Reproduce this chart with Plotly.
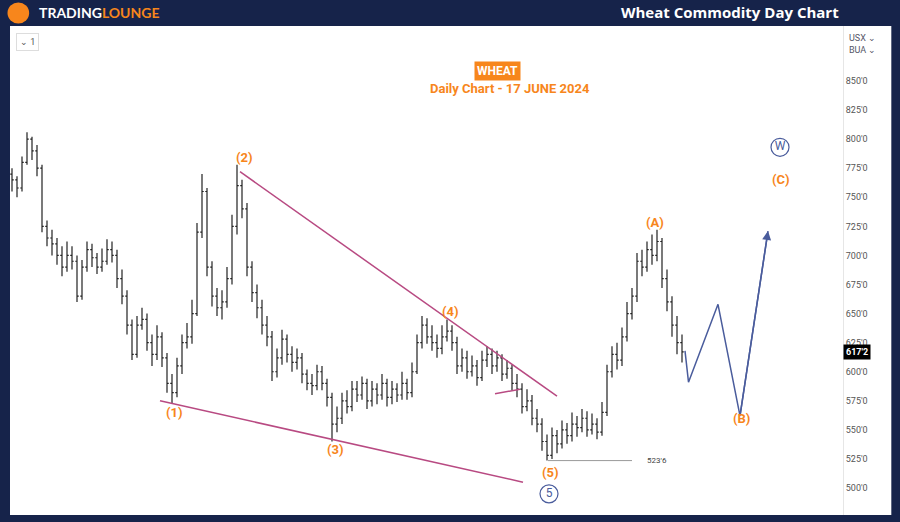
import plotly.graph_objects as go

closes = [765,758,780,800,790,775,725,715,710,700,690,700,695,665,690,705,698,690,695,705,
          700,680,665,640,615,640,645,625,615,630,612,590,582,605,625,630,650,720,755,690,
          665,655,660,680,725,760,740,690,668,655,640,630,600,612,628,615,608,612,598,590,
          588,600,590,578,555,560,575,570,585,580,590,575,585,580,590,578,585,580,590,582,
          600,625,640,630,625,620,630,635,625,605,612,600,605,595,610,615,605,612,598,603,
          590,585,570,575,560,555,540,528,545,538,550,545,555,552,560,550,555,548,565,600,
          615,610,630,650,665,695,690,705,700,712,680,660,640,625,617]
highs = [775,768,785,806,802,795,778,730,722,715,708,712,708,700,696,712,710,702,706,714,
         712,705,688,670,645,648,655,650,632,640,634,616,598,612,632,642,662,728,770,758,
         695,672,670,690,735,778,765,745,695,675,662,648,635,620,636,632,622,620,616,602,
         598,606,605,594,582,570,582,584,592,592,596,594,592,590,598,594,592,590,600,594,
         608,632,648,646,640,632,640,645,640,630,620,618,614,610,618,622,620,618,615,610,
         606,598,590,585,580,568,560,546,552,550,558,556,565,562,568,566,564,560,574,606,
         622,625,638,660,672,702,705,712,718,722,715,688,665,648,632]
lows = [755,750,755,778,782,768,720,708,700,692,682,686,688,660,662,686,690,684,686,692,
        694,672,658,632,610,612,636,618,605,610,604,582,573,578,598,620,624,648,715,682,
        656,648,645,655,675,718,732,682,660,646,632,622,592,595,606,608,600,602,590,584,
        580,584,584,570,540,548,555,564,566,574,576,568,570,572,576,570,572,574,576,576,
        578,598,620,624,618,612,615,626,618,598,600,594,596,588,592,604,598,600,592,594,
        584,578,564,566,554,548,532,523.6,525,530,534,538,540,544,548,544,546,542,545,562,
        595,602,605,626,645,660,682,686,692,695,672,652,630,615,608]
opens = [770] + closes[:-1]
bars = list(range(len(closes)))

price_ticks = [475,500,525,550,575,600,625,650,675,700,725,750,775,800,825,850]
price_labels = [f"{p}'0" for p in price_ticks]

upper_line_x = [45.6, 109.0]; upper_line_y = [772, 579]
lower_line_x = [29.6, 102.2]; lower_line_y = [575, 505]
small_line_x = [96.6, 101.6]; small_line_y = [581, 585]
proj_x = [134.6, 135.3, 141.2, 145.6]; proj_y = [618, 591, 658, 562]
arrow_end = (151.2, 721)

wave_labels = ["(1)","(2)","(3)","(4)","(5)","(A)","(B)","(C)"]
wave_x = [32.4, 46.4, 64.6, 87.6, 107.6, 128.6, 145.8, 153.6]
wave_y = [565, 784, 533, 652, 513, 728, 560, 765]

ORANGE = "#f7861c"; NAVY = "#16234a"; PINK = "#b84a82"; BLUE = "#4a5c9c"
W, H, L, R, T, B = 900, 522, 10, 57, 26, 7

def px_to_paper(px, py):
    return (px - L) / (W - L - R), 1 - (py - T) / (H - T - B)

fig = go.Figure()
fig.add_trace(go.Ohlc(x=bars, open=opens, high=highs, low=lows, close=closes,
                      increasing=dict(line=dict(color="#222", width=1.2)),
                      decreasing=dict(line=dict(color="#222", width=1.2)),
                      tickwidth=0.35, hoverinfo="skip"))
for lx, ly in [(upper_line_x, upper_line_y), (lower_line_x, lower_line_y), (small_line_x, small_line_y)]:
    fig.add_trace(go.Scatter(x=lx, y=ly, mode="lines", line=dict(color=PINK, width=1.5), hoverinfo="skip"))
fig.add_trace(go.Scatter(x=proj_x + [arrow_end[0]], y=proj_y + [arrow_end[1]], mode="lines",
                         line=dict(color=BLUE, width=1.5), hoverinfo="skip"))
fig.add_annotation(x=arrow_end[0], y=arrow_end[1], ax=proj_x[-1], ay=proj_y[-1], xref="x", yref="y",
                   axref="x", ayref="y", text="", showarrow=True, arrowhead=2, arrowsize=1.2,
                   arrowwidth=1.5, arrowcolor=BLUE)
fig.add_trace(go.Scatter(x=[107.2, 124], y=[523.6, 523.6], mode="lines", line=dict(color="#999", width=1), hoverinfo="skip"))
fig.add_annotation(x=126.5, y=523.6, text="523'6", showarrow=False, xanchor="left",
                   font=dict(size=8, color="#444", family="Roboto"))
for t, xx, yy in zip(wave_labels, wave_x, wave_y):
    fig.add_annotation(x=xx, y=yy, text=f"<b>{t}</b>", showarrow=False,
                       font=dict(size=13, color=ORANGE, family="Roboto"))
fig.add_trace(go.Scatter(x=[107.4, 153.6], y=[495, 793], mode="markers+text", text=["5", "W"],
                         textposition="middle center",
                         textfont=dict(size=12, color=BLUE, family="Roboto"),
                         marker=dict(symbol="circle-open", size=18, color=BLUE, line=dict(width=1.2)),
                         hoverinfo="skip"))

fig.update_layout(
    width=W, height=H, showlegend=False,
    paper_bgcolor=NAVY, plot_bgcolor="white",
    margin=dict(l=L, r=R, t=T, b=B),
    xaxis=dict(range=[-0.4, 166.2], showgrid=False, showticklabels=False, zeroline=False,
               rangeslider=dict(visible=False), fixedrange=True),
    yaxis=dict(range=[476.8, 897.3], side="right", tickvals=price_ticks, ticktext=price_labels,
               showgrid=False, zeroline=False, ticks="", tickfont=dict(size=9, color="#555", family="Roboto"),
               showline=True, linecolor="#e6e6e6"),
)
fig.add_shape(type="rect", xref="paper", yref="paper", x0=1.0, x1=1.058, y0=0, y1=1,
              fillcolor="white", line=dict(width=0), layer="below")
fig.add_annotation(xref="paper", yref="paper", x=1.005, y=0.99, xanchor="left", yanchor="top",
                   text="USX ⌄<br>BUA ⌄", showarrow=False, align="left",
                   font=dict(size=9, color="#556", family="Roboto"))
fig.add_annotation(x=1.0, y=617.2, xref="paper", yref="y", xanchor="left", text="<b>617'2</b>",
                   showarrow=False, bgcolor="black", font=dict(size=9, color="white", family="Roboto"),
                   borderpad=2)
fig.add_annotation(xref="paper", yref="paper", x=0.007, y=0.985, xanchor="left", yanchor="top",
                   text="⌄ 1", showarrow=False, bordercolor="#ddd", borderwidth=1, borderpad=3,
                   font=dict(size=9, color="#555", family="Roboto"))
wx, wy = px_to_paper(497, 61)
fig.add_annotation(x=wx, y=wy, xref="paper", yref="paper", text="<b>WHEAT</b>", showarrow=False,
                   bgcolor=ORANGE, font=dict(size=12, color="white", family="Roboto"), borderpad=2)
dx, dy = px_to_paper(510, 79)
fig.add_annotation(x=dx, y=dy, xref="paper", yref="paper", text="<b>Daily Chart - 17 JUNE 2024</b>",
                   showarrow=False, font=dict(size=13, color=ORANGE, family="Roboto"))
fig.add_annotation(xref="paper", yref="paper", x=0.998, y=1.0, xanchor="right", yanchor="bottom",
                   yshift=2, text="<b>Wheat Commodity Day Chart</b>", showarrow=False,
                   font=dict(size=15, color="white", family="Open Sans"))
fig.add_annotation(xref="paper", yref="paper", x=0.032, y=1.0, xanchor="left", yanchor="bottom",
                   yshift=3, text="<b>TRADING</b><b style='color:#f7861c'>LOUNGE</b>", showarrow=False,
                   font=dict(size=14, color="white", family="Lato"))
fig.add_shape(type="circle", xref="paper", yref="paper", x0=-0.003, x1=0.023, y0=1.005, y1=1.048,
              fillcolor=ORANGE, line=dict(width=0))

fig.write_html("out.html", config={"displayModeBar": False},
               post_script="document.body.style.margin='0';document.body.style.overflow='hidden';")
